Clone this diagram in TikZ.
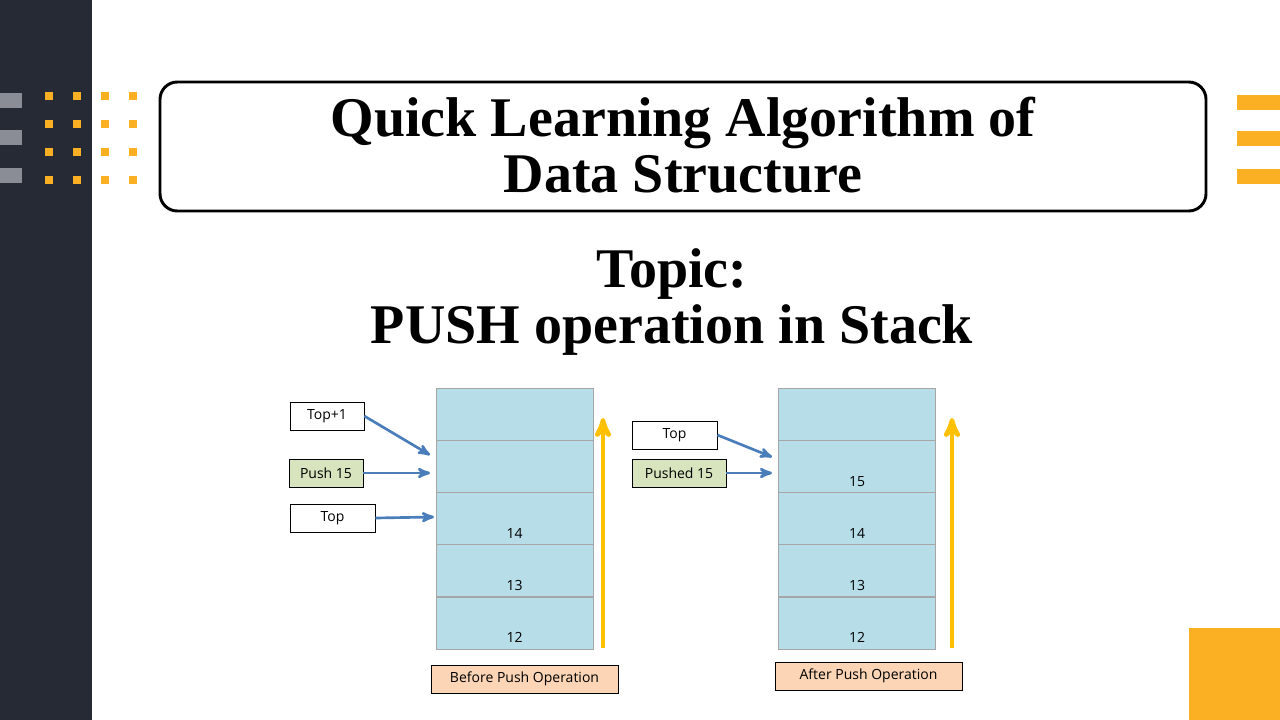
\documentclass[tikz,border=0pt]{standalone}
\usepackage{fontspec}
\setmainfont{Liberation Serif}
\setsansfont{Open Sans}
\usetikzlibrary{positioning}
\usetikzlibrary{arrows}

\definecolor{darkbar}{RGB}{38,42,53}
\definecolor{graybar}{RGB}{138,141,150}
\definecolor{orange}{RGB}{251,176,35}
\definecolor{cellblue}{RGB}{183,221,232}
\definecolor{arrowblue}{RGB}{74,126,187}
\definecolor{yellowarrow}{RGB}{255,192,0}
\definecolor{pushgreen}{RGB}{215,228,189}
\definecolor{peach}{RGB}{251,213,181}

\begin{document}
\begin{tikzpicture}[x=0.75pt,y=-0.75pt,
	cell/.style={rectangle,draw=gray!70,fill=cellblue,minimum width=117.75pt,minimum height=39pt,inner sep=0pt,
		font=\sffamily\fontsize{10.5}{12}\selectfont,text depth=0pt},
	tag/.style={rectangle,draw=black,fill=white,minimum height=21pt,inner sep=0pt,font=\sffamily\fontsize{10.5}{12}\selectfont},
	heading/.style={font=\bfseries\fontsize{42}{48}\selectfont,align=center},
	link/.style={->,>=stealth',draw=arrowblue,line width=2pt},
	growline/.style={->,>=stealth',draw=yellowarrow,line width=3.5pt}]
	
	\useasboundingbox (0,0) rectangle (1280,720);
	
	% side decoration
	\fill[darkbar] (0,0) rectangle (92,720);
	\foreach \y in {93,130,168}
	\fill[graybar] (0,\y) rectangle (22,\y+15);
	\foreach \x in {49,77,105,133}
	\foreach \y in {96,124,152,180}
	\fill[orange] (\x-4,\y-4) rectangle (\x+4,\y+4);
	\foreach \y in {95,131,169}
	\fill[orange] (1237,\y) rectangle (1280,\y+15);
	\fill[orange] (1189,628) rectangle (1280,720);
	
	% title
	\draw[line width=2.2pt,rounded corners=13pt] (160,82) rectangle (1206,211);
	\node[heading] (title) at (683,145) {Quick Learning Algorithm of\\[-6pt]Data Structure};
	\node[heading] (topic) at (672,302) {Topic:\\[-6pt]PUSH operation in Stack};
	
	% stack before
	\foreach \i/\v in {0/,1/,2/14,3/13,4/12}
	\node[cell] (b\i) at (514.5,414+52.2*\i) {\raisebox{-15pt}{\v}};
	% stack after
	\foreach \i/\v in {0/,1/15,2/14,3/13,4/12}
	\node[cell] (a\i) at (857,414+52.2*\i) {\raisebox{-15pt}{\v}};
	
	\coordinate (bbot) at (603,648);
	\coordinate (btop) at (603,418);
	\coordinate (abot) at (952,648);
	\coordinate (atop) at (952,418);
	\draw[growline] (bbot) -- (btop);
	\draw[growline] (abot) -- (atop);
	
	% pointers before
	\node[tag,minimum width=55.5pt] (topone) at (327,416) {Top+1};
	\node[tag,minimum width=55.5pt,fill=pushgreen] (push) at (326,473) {Push 15};
	\node[tag,minimum width=64pt] (top) at (332.5,518) {Top};
	\coordinate (tgt1) at (430,455);
	\coordinate (tgt2) at (430,473);
	\coordinate (tgt3) at (434,517);
	\draw[link] (topone.east) -- (tgt1);
	\draw[link] (push.east) -- (tgt2);
	\draw[link] (top.east) -- (tgt3);
	
	% pointers after
	\node[tag,minimum width=64pt] (newtop) at (674.5,435) {Top};
	\node[tag,minimum width=70.5pt,fill=pushgreen] (pushed) at (679,473) {Pushed 15};
	\coordinate (tgt4) at (772,457);
	\coordinate (tgt5) at (772,473);
	\draw[link] (newtop.east) -- (tgt4);
	\draw[link] (pushed.east) -- (tgt5);
	
	% captions
	\node[tag,minimum width=140pt,fill=peach] (before) at (524.5,679) {Before Push Operation};
	\node[tag,minimum width=140pt,fill=peach] (after) at (868.5,676) {After Push Operation};
\end{tikzpicture}
\end{document}
